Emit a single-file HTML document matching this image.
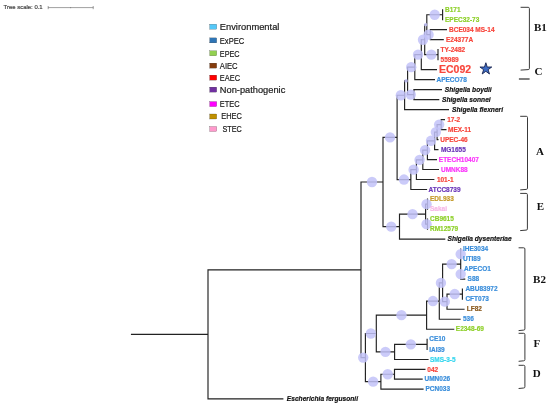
<!DOCTYPE html>
<html lang="en"><head><meta charset="utf-8"><title>Phylogenetic tree</title>
<style>html,body{margin:0;padding:0;background:#fff}svg{display:block}</style></head>
<body>
<svg width="550" height="409" viewBox="0 0 550 409">
<rect width="550" height="409" fill="#fff"/>
<path d="M442.60 9.23V20.36M426.23 14.79H442.60M429.73 29.68H447.00M429.73 39.67H443.80M430.30 29.11V40.24M426.23 34.67H430.30M426.80 14.22V35.25M424.12 24.73H426.80M438.00 49.09V60.23M424.12 54.66H438.00M424.70 24.16V55.23M420.73 39.70H424.70M420.73 69.64H437.00M421.30 39.12V70.22M414.23 54.67H421.30M414.23 79.63H435.00M414.80 54.09V80.21M407.03 67.15H414.80M413.32 89.62H442.00M413.32 99.61H439.30M413.90 89.05V100.19M407.03 94.62H413.90M407.60 66.57V95.19M404.03 80.88H407.60M404.03 109.60H449.00M404.60 80.31V110.18M396.53 95.24H404.60M440.62 119.59H445.00M440.62 129.58H446.50M441.20 119.02V130.16M436.53 124.59H441.20M436.53 139.57H438.50M437.10 124.01V140.15M434.03 132.08H437.10M434.03 149.56H438.50M434.60 131.50V150.14M426.82 140.82H434.60M426.82 159.55H437.00M427.40 140.24V160.12M422.23 150.18H427.40M422.23 169.54H439.00M422.80 149.61V170.12M415.82 159.86H422.80M415.82 179.48H434.40M416.40 159.29V180.06M410.28 169.67H416.40M410.28 189.47H427.10M410.85 169.10V190.04M396.53 179.57H410.85M397.10 94.67V180.15M382.43 137.41H397.10M427.50 198.59V209.73M425.03 204.16H427.50M427.50 218.57V229.71M425.03 224.14H427.50M425.60 203.58V224.71M398.93 214.15H425.60M398.93 239.12H445.30M399.50 213.57V239.70M382.43 226.63H399.50M383.00 136.83V227.21M360.43 182.02H383.00M460.70 248.54V259.68M460.70 253.53V254.68M460.12 279.08H465.30M460.70 268.52V279.66M460.70 273.51V274.66M460.70 253.53V274.66M442.03 264.10H460.70M462.40 288.50V299.63M446.43 294.07H462.40M446.43 309.25H464.60M447.00 293.49V309.82M442.03 301.66H447.00M442.60 263.52V302.23M438.73 282.88H442.60M438.73 319.24H460.70M439.30 282.30V319.81M426.03 301.06H439.30M426.03 329.23H454.30M426.60 300.48V329.81M375.73 315.14H426.60M427.10 338.65V350.04M394.03 344.34H427.10M394.03 359.45H428.60M394.60 343.77V360.03M375.73 351.90H394.60M376.30 314.57V352.47M364.82 333.52H376.30M393.93 369.44H425.50M393.93 379.08H422.70M394.50 368.87V379.65M380.32 374.26H394.50M380.32 389.07H423.60M380.90 373.69V389.64M364.82 381.66H380.90M365.40 332.94V382.24M360.43 357.59H365.40M361.00 181.44V358.17M207.43 269.81H361.00M207.43 398.91H283.40M208.00 269.23V399.49M130.93 334.36H208.00" fill="none" stroke="#222" stroke-width="1.15"/>
<circle cx="434.70" cy="14.79" r="5.2" fill="#c2c2f8" fill-opacity="0.85"/>
<circle cx="428.55" cy="34.67" r="5.2" fill="#c2c2f8" fill-opacity="0.85"/>
<circle cx="425.75" cy="24.73" r="1.8" fill="#c2c2f8" fill-opacity="0.85"/>
<circle cx="431.35" cy="54.66" r="5.2" fill="#c2c2f8" fill-opacity="0.85"/>
<circle cx="423.00" cy="39.70" r="5.2" fill="#c2c2f8" fill-opacity="0.85"/>
<circle cx="418.05" cy="54.67" r="5.2" fill="#c2c2f8" fill-opacity="0.85"/>
<circle cx="411.20" cy="67.15" r="5.2" fill="#c2c2f8" fill-opacity="0.85"/>
<circle cx="410.75" cy="94.62" r="5.2" fill="#c2c2f8" fill-opacity="0.85"/>
<circle cx="406.10" cy="80.88" r="1.8" fill="#c2c2f8" fill-opacity="0.85"/>
<circle cx="400.85" cy="95.24" r="5.2" fill="#c2c2f8" fill-opacity="0.85"/>
<circle cx="439.15" cy="124.59" r="5.2" fill="#c2c2f8" fill-opacity="0.85"/>
<circle cx="435.85" cy="132.08" r="5.2" fill="#c2c2f8" fill-opacity="0.85"/>
<circle cx="431.00" cy="140.82" r="5.2" fill="#c2c2f8" fill-opacity="0.85"/>
<circle cx="425.10" cy="150.18" r="5.2" fill="#c2c2f8" fill-opacity="0.85"/>
<circle cx="419.60" cy="159.86" r="5.2" fill="#c2c2f8" fill-opacity="0.85"/>
<circle cx="413.62" cy="169.67" r="5.2" fill="#c2c2f8" fill-opacity="0.85"/>
<circle cx="403.98" cy="179.57" r="5.2" fill="#c2c2f8" fill-opacity="0.85"/>
<circle cx="390.05" cy="137.41" r="5.2" fill="#c2c2f8" fill-opacity="0.85"/>
<circle cx="426.55" cy="204.16" r="5.2" fill="#c2c2f8" fill-opacity="0.85"/>
<circle cx="426.55" cy="224.14" r="5.2" fill="#c2c2f8" fill-opacity="0.85"/>
<circle cx="412.55" cy="214.15" r="5.2" fill="#c2c2f8" fill-opacity="0.85"/>
<circle cx="391.25" cy="226.63" r="5.2" fill="#c2c2f8" fill-opacity="0.85"/>
<circle cx="372.00" cy="182.02" r="5.2" fill="#c2c2f8" fill-opacity="0.85"/>
<circle cx="460.70" cy="254.11" r="5.2" fill="#c2c2f8" fill-opacity="0.85"/>
<circle cx="460.70" cy="274.09" r="5.2" fill="#c2c2f8" fill-opacity="0.85"/>
<circle cx="451.65" cy="264.10" r="5.2" fill="#c2c2f8" fill-opacity="0.85"/>
<circle cx="454.70" cy="294.07" r="5.2" fill="#c2c2f8" fill-opacity="0.85"/>
<circle cx="444.80" cy="301.66" r="5.2" fill="#c2c2f8" fill-opacity="0.85"/>
<circle cx="440.95" cy="282.88" r="5.2" fill="#c2c2f8" fill-opacity="0.85"/>
<circle cx="432.95" cy="301.06" r="5.2" fill="#c2c2f8" fill-opacity="0.85"/>
<circle cx="401.45" cy="315.14" r="5.2" fill="#c2c2f8" fill-opacity="0.85"/>
<circle cx="410.85" cy="344.34" r="5.2" fill="#c2c2f8" fill-opacity="0.85"/>
<circle cx="385.45" cy="351.90" r="5.2" fill="#c2c2f8" fill-opacity="0.85"/>
<circle cx="370.85" cy="333.52" r="5.2" fill="#c2c2f8" fill-opacity="0.85"/>
<circle cx="387.70" cy="374.26" r="5.2" fill="#c2c2f8" fill-opacity="0.85"/>
<circle cx="373.15" cy="381.66" r="5.2" fill="#c2c2f8" fill-opacity="0.85"/>
<circle cx="363.20" cy="357.59" r="5.2" fill="#c2c2f8" fill-opacity="0.85"/>
<g font-family="'Liberation Sans', Arial, sans-serif" font-weight="bold" font-size="6.5" stroke-width="0.18">
<text x="445" y="11.65" fill="#8ed02a" stroke="#8ed02a">B171</text>
<text x="445" y="21.65" fill="#8ed02a" stroke="#8ed02a">EPEC32-73</text>
<text x="449" y="31.55" fill="#f8463c" stroke="#f8463c">BCE034 MS-14</text>
<text x="446" y="41.55" fill="#f8463c" stroke="#f8463c">E24377A</text>
<text x="440.6" y="51.55" fill="#f8463c" stroke="#f8463c">TY-2482</text>
<text x="440.6" y="61.55" fill="#f8463c" stroke="#f8463c">55989</text>
<text x="439" y="72.75" fill="#f8463c" stroke="#f8463c" font-size="10.5">EC092</text>
<text x="436.5" y="81.55" fill="#3a8edb" stroke="#3a8edb">APECO78</text>
<text x="444.8" y="91.55" fill="#111" stroke="#111" font-style="italic" font-size="6.65">Shigella boydii</text>
<text x="442" y="101.55" fill="#111" stroke="#111" font-style="italic" font-size="6.65">Shigella sonnei</text>
<text x="452.1" y="111.55" fill="#111" stroke="#111" font-style="italic" font-size="6.65">Shigella flexneri</text>
<text x="447.2" y="121.55" fill="#f8463c" stroke="#f8463c">17-2</text>
<text x="448" y="131.55" fill="#f8463c" stroke="#f8463c">MEX-11</text>
<text x="440.2" y="141.55" fill="#f8463c" stroke="#f8463c">UPEC-46</text>
<text x="440.9" y="151.55" fill="#6a35b8" stroke="#6a35b8">MG1655</text>
<text x="438.8" y="161.55" fill="#fb35fb" stroke="#fb35fb">ETECH10407</text>
<text x="441" y="171.55" fill="#fb35fb" stroke="#fb35fb">UMNK88</text>
<text x="436.9" y="181.50" fill="#f8463c" stroke="#f8463c">101-1</text>
<text x="428.5" y="191.50" fill="#6a35b8" stroke="#6a35b8">ATCC8739</text>
<text x="430" y="201.20" fill="#c49a28" stroke="#c49a28">EDL933</text>
<text x="430" y="211.20" fill="#f6b6e6" stroke="#f6b6e6">Sakai</text>
<text x="430" y="221.20" fill="#8ed02a" stroke="#8ed02a">CB9615</text>
<text x="430" y="231.20" fill="#8ed02a" stroke="#8ed02a">RM12579</text>
<text x="447.5" y="241.20" fill="#111" stroke="#111" font-style="italic" font-size="6.65">Shigella dysenteriae</text>
<text x="462.9" y="251.20" fill="#3a8edb" stroke="#3a8edb">IHE3034</text>
<text x="462.9" y="261.20" fill="#3a8edb" stroke="#3a8edb">UTI89</text>
<text x="464.1" y="271.20" fill="#3a8edb" stroke="#3a8edb">APECO1</text>
<text x="467.6" y="281.20" fill="#3a8edb" stroke="#3a8edb">S88</text>
<text x="465.4" y="291.20" fill="#3a8edb" stroke="#3a8edb">ABU83972</text>
<text x="465.4" y="301.20" fill="#3a8edb" stroke="#3a8edb">CFT073</text>
<text x="466.8" y="311.40" fill="#8a5a1e" stroke="#8a5a1e">LF82</text>
<text x="463" y="321.40" fill="#3a8edb" stroke="#3a8edb">536</text>
<text x="455.8" y="331.40" fill="#8ed02a" stroke="#8ed02a">E2348-69</text>
<text x="429.2" y="341.40" fill="#3a8edb" stroke="#3a8edb">CE10</text>
<text x="429.2" y="351.65" fill="#3a8edb" stroke="#3a8edb">IAI39</text>
<text x="430" y="361.65" fill="#35d6ee" stroke="#35d6ee">SMS-3-5</text>
<text x="427.3" y="371.65" fill="#f8463c" stroke="#f8463c">042</text>
<text x="424.5" y="381.30" fill="#3a8edb" stroke="#3a8edb">UMN026</text>
<text x="425.5" y="391.30" fill="#3a8edb" stroke="#3a8edb">PCN033</text>
<text x="286.8" y="401.15" fill="#111" stroke="#111" font-style="italic" font-size="6.65">Escherichia fergusonii</text>
</g>
<polygon points="485.85,62.75 487.23,67.05 491.75,67.03 488.08,69.68 489.49,73.97 485.85,71.30 482.21,73.97 483.62,69.68 479.95,67.03 484.47,67.05" fill="#3d6cc4" stroke="#16234f" stroke-width="0.9" stroke-linejoin="miter"/>
<path d="M520.6 7.3H528.1999999999999Q529.4 7.3 529.4 8.5V68.39999999999999Q529.4 69.6 528.1999999999999 69.6L520.6 70.1" fill="none" stroke="#3a3a3a" stroke-width="1"/>
<path d="M518.9 79H529.6" stroke="#2a2a2a" stroke-width="1.2"/>
<path d="M520.2 116.3H526.3Q527.5 116.3 527.5 117.5V188.20000000000002Q527.5 189.4 526.3 189.4L520.2 189.9" fill="none" stroke="#3a3a3a" stroke-width="1"/>
<path d="M520.2 193.4H526.1999999999999Q527.4 193.4 527.4 194.6V228.9Q527.4 230.1 526.1999999999999 230.1L520.2 230.6" fill="none" stroke="#3a3a3a" stroke-width="1"/>
<path d="M518.6 247.8H523.6999999999999Q524.9 247.8 524.9 249.0V328.90000000000003Q524.9 330.1 523.6999999999999 330.1L518.6 330.6" fill="none" stroke="#3a3a3a" stroke-width="1"/>
<path d="M518.6 333.3H523.6999999999999Q524.9 333.3 524.9 334.5V359.6Q524.9 360.8 523.6999999999999 360.8L518.6 361.3" fill="none" stroke="#3a3a3a" stroke-width="1"/>
<path d="M518.6 365.3H523.6999999999999Q524.9 365.3 524.9 366.5V386.8Q524.9 388 523.6999999999999 388L518.6 388.5" fill="none" stroke="#3a3a3a" stroke-width="1"/>
<g font-family="'Liberation Serif', 'Times New Roman', serif" font-weight="bold" font-size="11" fill="#111">
<text x="534" y="30.8">B1</text>
<text x="534.6" y="74.8">C</text>
<text x="536" y="155">A</text>
<text x="536.8" y="210">E</text>
<text x="533.1" y="283.4">B2</text>
<text x="533.5" y="346.7">F</text>
<text x="532.7" y="377.3">D</text>
</g>
<text x="3.6" y="9.4" font-family="'Liberation Sans', Arial, sans-serif" font-size="5.95" fill="#444" stroke="#444" stroke-width="0.2">Tree scale: 0.1</text>
<path d="M48 7.6H93.4M48.2 6V9.2M93.2 6V9.2M70.6 7V8.2" stroke="#777" stroke-width="0.7" fill="none"/>
<g font-family="'Liberation Sans', Arial, sans-serif" font-size="9.4" fill="#1a1a1a" stroke="#1a1a1a" stroke-width="0.2">
<rect x="209.7" y="24.2" width="7" height="5" fill="#55c8f8"/>
<text x="219.8" y="30.3" textLength="59.6" lengthAdjust="spacingAndGlyphs">Environmental</text>
<rect x="209.7" y="37.9" width="7" height="5" fill="#2e75b6"/>
<text x="219.8" y="44.1" textLength="24.4" lengthAdjust="spacingAndGlyphs">ExPEC</text>
<rect x="209.7" y="50.8" width="7" height="5" fill="#92d050"/>
<text x="219.8" y="56.5" textLength="19.8" lengthAdjust="spacingAndGlyphs">EPEC</text>
<rect x="209.7" y="63.1" width="7" height="5" fill="#843c0c"/>
<text x="219.8" y="68.8" textLength="17.8" lengthAdjust="spacingAndGlyphs">AIEC</text>
<rect x="209.7" y="75.1" width="7" height="5" fill="#ff0000"/>
<text x="219.8" y="81.2" textLength="20.2" lengthAdjust="spacingAndGlyphs">EAEC</text>
<rect x="209.7" y="87.1" width="7" height="5" fill="#7030a0"/>
<text x="219.8" y="92.6" textLength="65.5" lengthAdjust="spacingAndGlyphs">Non-pathogenic</text>
<rect x="209.7" y="101.6" width="7" height="5" fill="#ff00ff"/>
<text x="219.8" y="106.8" textLength="19.8" lengthAdjust="spacingAndGlyphs">ETEC</text>
<rect x="209.7" y="114" width="7" height="5" fill="#bf9000"/>
<text x="221.2" y="119.2" textLength="20.6" lengthAdjust="spacingAndGlyphs">EHEC</text>
<rect x="209.7" y="126.5" width="7" height="5" fill="#ff99cc"/>
<text x="222.5" y="132.1" textLength="19.3" lengthAdjust="spacingAndGlyphs">STEC</text>
</g>
</svg>
</body></html>
